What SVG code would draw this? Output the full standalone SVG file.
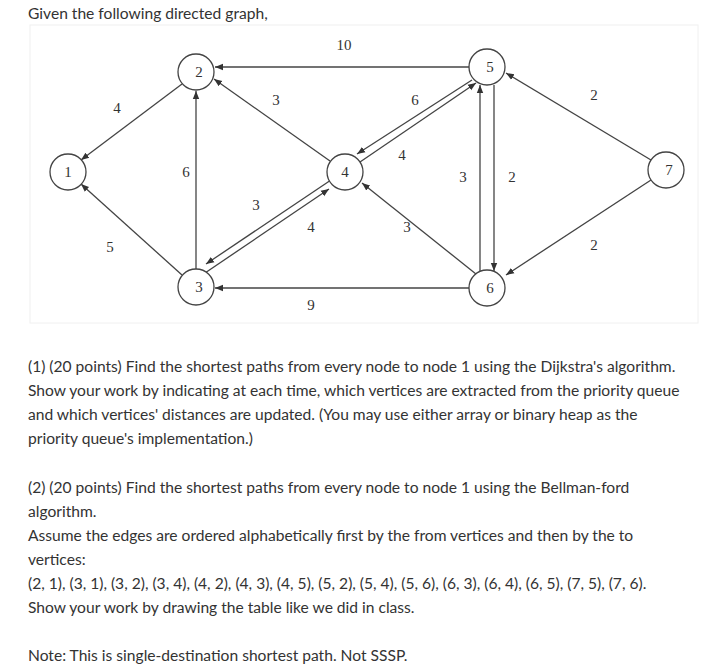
<svg xmlns="http://www.w3.org/2000/svg" width="722" height="668" viewBox="0 0 722 668">
<style>
.t{font-family:Lato,"Open Sans",sans-serif;font-size:15.6px;fill:#333}
.n circle{fill:#fff;stroke:#444;stroke-width:1.3}
.n text,.w{font-family:"Liberation Serif",serif;font-size:15px;fill:#333;text-anchor:middle}
.e line{stroke:#444;stroke-width:1.3;marker-end:url(#a)}
</style>
<defs><marker id="a" viewBox="0 0 10 10" refX="10" refY="5" markerWidth="8" markerHeight="8" markerUnits="userSpaceOnUse" orient="auto"><path d="M0,1L10,5L0,9z" fill="#333"/></marker></defs>
<rect width="722" height="668" fill="#fff"/>
<rect x="30" y="25" width="668" height="298" fill="#fff" stroke="#f0f0f0"/>
<text class="t" x="28" y="19">Given the following directed graph,</text>
<g class="e" id="edges">
<line x1="182" y1="84" x2="81" y2="160"/>
<line x1="182" y1="275" x2="81" y2="184"/>
<line x1="196" y1="269" x2="196" y2="91"/>
<line x1="330" y1="161" x2="214" y2="79"/>
<line x1="470" y1="67" x2="215" y2="67"/>
<line x1="331" y1="180" x2="206" y2="264"/>
<line x1="205" y1="273" x2="329" y2="189"/>
<line x1="469" y1="288" x2="215" y2="288"/>
<line x1="472" y1="80" x2="357" y2="154"/>
<line x1="360" y1="162" x2="476" y2="83"/>
<line x1="476" y1="274" x2="362" y2="183"/>
<line x1="480" y1="271" x2="480" y2="85"/>
<line x1="494" y1="85" x2="494" y2="271"/>
<line x1="651" y1="160" x2="506" y2="73"/>
<line x1="651" y1="180" x2="506" y2="275"/>
</g>
<g id="n1" class="n"><circle cx="68" cy="172" r="18"/><text x="68" y="177">1</text></g>
<g id="n2" class="n"><circle cx="196" cy="72" r="18"/><text x="199" y="77">2</text></g>
<g id="n3" class="n"><circle cx="196" cy="287" r="18"/><text x="199" y="292">3</text></g>
<g id="n4" class="n"><circle cx="345" cy="172" r="18"/><text x="345" y="177">4</text></g>
<g id="n5" class="n"><circle cx="487" cy="67" r="18"/><text x="490" y="72">5</text></g>
<g id="n6" class="n"><circle cx="487" cy="288" r="18"/><text x="490" y="293">6</text></g>
<g id="n7" class="n"><circle cx="666" cy="170" r="18"/><text x="669" y="175">7</text></g>
<g id="labels">
<text class="w" x="117" y="113">4</text>
<text class="w" x="110" y="252">5</text>
<text class="w" x="186" y="177">6</text>
<text class="w" x="276" y="105">3</text>
<text class="w" x="344" y="50">10</text>
<text class="w" x="256" y="210">3</text>
<text class="w" x="311" y="232">4</text>
<text class="w" x="311" y="310">9</text>
<text class="w" x="415" y="105">6</text>
<text class="w" x="402" y="160">4</text>
<text class="w" x="407" y="232">3</text>
<text class="w" x="463" y="182">3</text>
<text class="w" x="512" y="182">2</text>
<text class="w" x="594" y="100">2</text>
<text class="w" x="594" y="250">2</text>
</g>
<g class="t">
<text x="28" y="372">(1) (20 points) Find the shortest paths from every node to node 1 using the Dijkstra's algorithm.</text>
<text x="28" y="396">Show your work by indicating at each time, which vertices are extracted from the priority queue</text>
<text x="28" y="420">and which vertices' distances are updated. (You may use either array or binary heap as the</text>
<text x="28" y="444">priority queue's implementation.)</text>
<text x="28" y="493">(2) (20 points) Find the shortest paths from every node to node 1 using the Bellman-ford</text>
<text x="28" y="517">algorithm.</text>
<text x="28" y="541">Assume the edges are ordered alphabetically first by the from vertices and then by the to</text>
<text x="28" y="565">vertices:</text>
<text x="28" y="589">(2, 1), (3, 1), (3, 2), (3, 4), (4, 2), (4, 3), (4, 5), (5, 2), (5, 4), (5, 6), (6, 3), (6, 4), (6, 5), (7, 5), (7, 6).</text>
<text x="28" y="613">Show your work by drawing the table like we did in class.</text>
<text x="28" y="661">Note: This is single-destination shortest path. Not SSSP.</text>
</g>
</svg>
